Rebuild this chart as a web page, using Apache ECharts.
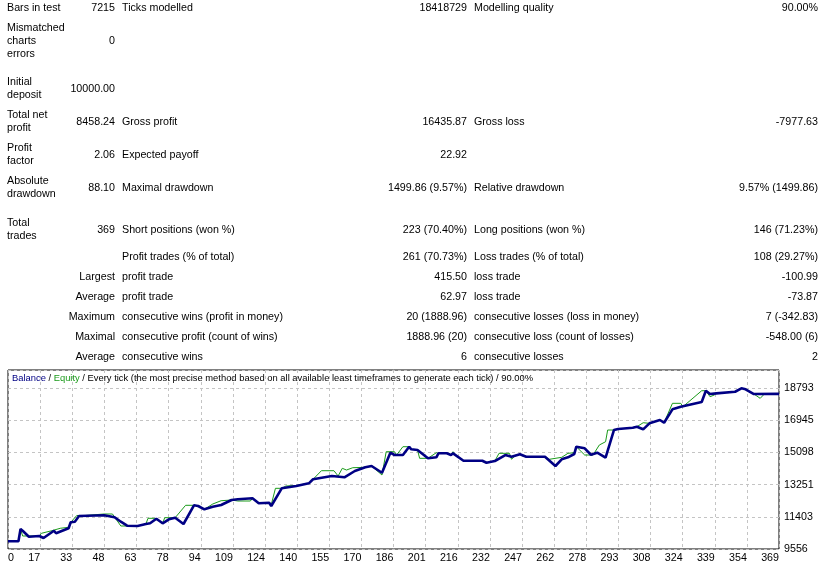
<!DOCTYPE html>
<html><head><meta charset="utf-8">
<script src="https://cdn.jsdelivr.net/npm/echarts@6/dist/echarts.min.js"></script>
<style>html,body{margin:0;padding:0;background:#fff;}#c{width:827px;height:569px;}</style>
</head><body><div id="c"></div>
<script>
// ---------- report table data ----------
const col1Labels = ['Bars in test','Mismatched\ncharts\nerrors','Initial\ndeposit','Total net\nprofit','Profit\nfactor','Absolute\ndrawdown','Total\ntrades','','','','','',''];
const col1Values = ['7215','0','10000.00','8458.24','2.06','88.10','369','','Largest','Average','Maximum','Maximal','Average'];
const col2Labels = ['Ticks modelled','','','Gross profit','Expected payoff','Maximal drawdown','Short positions (won %)','Profit trades (% of total)','profit trade','profit trade','consecutive wins (profit in money)','consecutive profit (count of wins)','consecutive wins'];
const col2Values = ['18418729','','','16435.87','22.92','1499.86 (9.57%)','223 (70.40%)','261 (70.73%)','415.50','62.97','20 (1888.96)','1888.96 (20)','6'];
const col3Labels = ['Modelling quality','','','Gross loss','','Relative drawdown','Long positions (won %)','Loss trades (% of total)','loss trade','loss trade','consecutive losses (loss in money)','consecutive loss (count of losses)','consecutive losses'];
const col3Values = ['90.00%','','','-7977.63','','9.57% (1499.86)','146 (71.23%)','108 (29.27%)','-100.99','-73.87','7 (-342.83)','-548.00 (6)','2'];

// ---------- chart data ----------
const chartTitleParts = ['Balance', 'Equity', 'Every tick (the most precise method based on all available least timeframes to generate each tick)', '90.00%'];
const xTickLabels = [0,17,33,48,63,78,94,109,124,140,155,170,186,201,216,232,247,262,278,293,308,324,339,354,369];
const yTickLabels = [9556,11403,13251,15098,16945,18793];
const yAxisTop = 19827;
const balance = [[0,10000],[5,10000],[6,10703],[7,10606],[10,10262],[15,10302],[17,10187],[22,10606],[23,10457],[29,10744],[30,11088],[32,11122],[34,11449],[46,11489],[51,11375],[54,11122],[57,10893],[62,10876],[66,10990],[68,11030],[71,11294],[74,11030],[77,11260],[80,11352],[84,10990],[89,12063],[91,12023],[94,11834],[98,11983],[102,12080],[107,12367],[110,12407],[117,12465],[120,12178],[125,12212],[126,12023],[131,13038],[138,13170],[144,13325],[146,13555],[155,13744],[161,13669],[166,14031],[171,14243],[174,14318],[179,13933],[183,15081],[185,14949],[189,14949],[192,15425],[193,15276],[196,15236],[201,14759],[205,14817],[206,15046],[210,15046],[212,14949],[213,15046],[218,14622],[227,14622],[229,14507],[233,14605],[238,14949],[241,14851],[245,14989],[248,14851],[257,14851],[262,14318],[265,14702],[268,14817],[271,15006],[272,15425],[276,15333],[279,14966],[282,15081],[286,14794],[290,16383],[292,16440],[299,16515],[301,16572],[304,16423],[307,16767],[312,16957],[314,16802],[318,17571],[322,17720],[332,17989],[334,18638],[336,18448],[339,18488],[348,18580],[351,18775],[353,18718],[357,18448],[369,18458]];
const equity = [[0,10000],[5,10000],[6,10703],[7,10302],[15,10302],[16,10457],[21,10606],[25,10744],[29,10801],[31,11220],[33,11489],[34,11449],[46,11564],[50,11564],[54,10876],[62,10876],[66,10990],[67,11317],[70,11317],[71,11294],[74,11030],[75,11352],[80,11352],[85,12063],[89,12063],[91,12023],[94,11834],[98,12138],[102,12327],[107,12367],[110,12310],[116,12310],[117,12465],[120,12178],[125,12212],[126,12100],[128,13038],[131,13038],[133,13170],[138,13200],[144,13325],[146,13555],[150,14048],[156,14048],[158,13744],[160,14186],[162,14088],[165,14220],[171,14243],[174,14318],[179,13801],[181,15138],[185,15138],[186,14949],[189,15425],[192,15425],[193,15276],[196,15236],[197,14759],[201,14759],[205,15081],[206,15046],[210,15046],[212,14949],[213,15138],[215,14851],[218,14622],[227,14622],[229,14507],[233,14605],[235,15046],[240,15046],[241,14702],[243,14949],[245,14989],[248,14851],[257,14851],[259,14702],[265,14817],[268,15046],[271,15081],[272,15425],[276,14949],[280,14949],[283,15522],[286,15711],[287,16383],[290,16383],[292,16440],[299,16515],[301,16572],[304,16802],[307,16767],[312,16957],[314,16802],[318,17915],[322,17915],[323,17720],[332,18638],[334,18638],[336,18293],[338,18391],[339,18488],[348,18580],[351,18775],[353,18718],[357,18448],[360,18201],[362,18448],[369,18458]];

// ---------- layout ----------
const FONT_FAMILY = '"Liberation Sans", Arial, sans-serif';
const FONT_SIZE = 10.7;
const TITLE_SIZE = 9.4;
const FONT = FONT_SIZE + 'px ' + FONT_FAMILY;
const rowY = [8,41,89,122,155,188,230,257,277,297,317,337,357];
const colX = {l1: 7, v1: 115, l2: 122, v2: 467, l3: 474, v3: 818};
const BALANCE_COLOR = '#000084';
const EQUITY_COLOR = '#1a9a1a';

const graphics = [];
function addText(txt, x, y, align) {
  if (!txt) return;
  graphics.push({type: 'text', silent: true, style: {text: txt, x: x, y: y, font: FONT, fill: '#000',
    textAlign: align, textVerticalAlign: 'middle', verticalAlign: 'middle', lineHeight: 13}});
}
rowY.forEach((y, i) => {
  addText(col1Labels[i], colX.l1, y, 'left');
  addText(col1Values[i], colX.v1, y, 'right');
  addText(col2Labels[i], colX.l2, y, 'left');
  addText(col2Values[i], colX.v2, y, 'right');
  addText(col3Labels[i], colX.l3, y, 'left');
  addText(col3Values[i], colX.v3, y, 'right');
});

const BASE = yTickLabels[0];
const yStep = (yTickLabels[yTickLabels.length - 1] - yTickLabels[0]) / (yTickLabels.length - 1);
const xStep = xTickLabels[xTickLabels.length - 1] / (xTickLabels.length - 1);
const shift = arr => arr.map(p => [p[0], p[1] - BASE]);

const chart = echarts.init(document.getElementById('c'), null, {renderer: 'canvas'});
chart.setOption({
  animation: false,
  backgroundColor: '#fff',
  title: {
    text: '{b|' + chartTitleParts[0] + '} / {e|' + chartTitleParts[1] + '} / ' + chartTitleParts[2] + ' / ' + chartTitleParts[3],
    left: 12, top: 374, padding: 0,
    textStyle: {fontSize: TITLE_SIZE, fontFamily: FONT_FAMILY, fontWeight: 'normal', color: '#000',
      rich: {b: {color: BALANCE_COLOR, fontSize: TITLE_SIZE, fontFamily: FONT_FAMILY},
             e: {color: EQUITY_COLOR, fontSize: TITLE_SIZE, fontFamily: FONT_FAMILY}}}
  },
  grid: {left: 8, right: 48, top: 370, bottom: 20, show: true, borderColor: '#000', borderWidth: 1, backgroundColor: 'transparent'},
  xAxis: {
    type: 'value', min: 0, max: xTickLabels[xTickLabels.length - 1], interval: xStep,
    axisLine: {show: false}, axisTick: {show: false},
    splitLine: {show: true, lineStyle: {color: '#c4c4c4', type: [3, 3], width: 1}},
    axisLabel: {
      formatter: v => { const i = Math.round(v / xStep); return Math.abs(v - i * xStep) < 0.01 && xTickLabels[i] !== undefined ? String(xTickLabels[i]) : ''; },
      align: 'right', alignMinLabel: 'left', margin: 4, color: '#000', fontSize: FONT_SIZE, fontFamily: FONT_FAMILY,
      showMinLabel: true, showMaxLabel: true, hideOverlap: false
    }
  },
  yAxis: {
    type: 'value', position: 'right', min: 0, max: yAxisTop - BASE, interval: yStep,
    axisLine: {show: false}, axisTick: {show: false},
    splitLine: {show: true, lineStyle: {color: '#c4c4c4', type: [3, 3], width: 1}},
    axisLabel: {
      formatter: v => { const i = Math.round(v / yStep); return Math.abs(v - i * yStep) < 1 && yTickLabels[i] !== undefined ? String(yTickLabels[i]) : ''; },
      margin: 5, color: '#000', fontSize: FONT_SIZE, fontFamily: FONT_FAMILY, showMaxLabel: false, showMinLabel: true
    }
  },
  series: [
    {name: 'Equity', type: 'line', data: shift(equity), showSymbol: false, symbol: 'none',
     lineStyle: {color: EQUITY_COLOR, width: 1}, z: 2},
    {name: 'Balance', type: 'line', data: shift(balance), showSymbol: false, symbol: 'none',
     lineStyle: {color: BALANCE_COLOR, width: 2.6}, z: 3}
  ],
  graphic: graphics
});
</script>
</body></html>
